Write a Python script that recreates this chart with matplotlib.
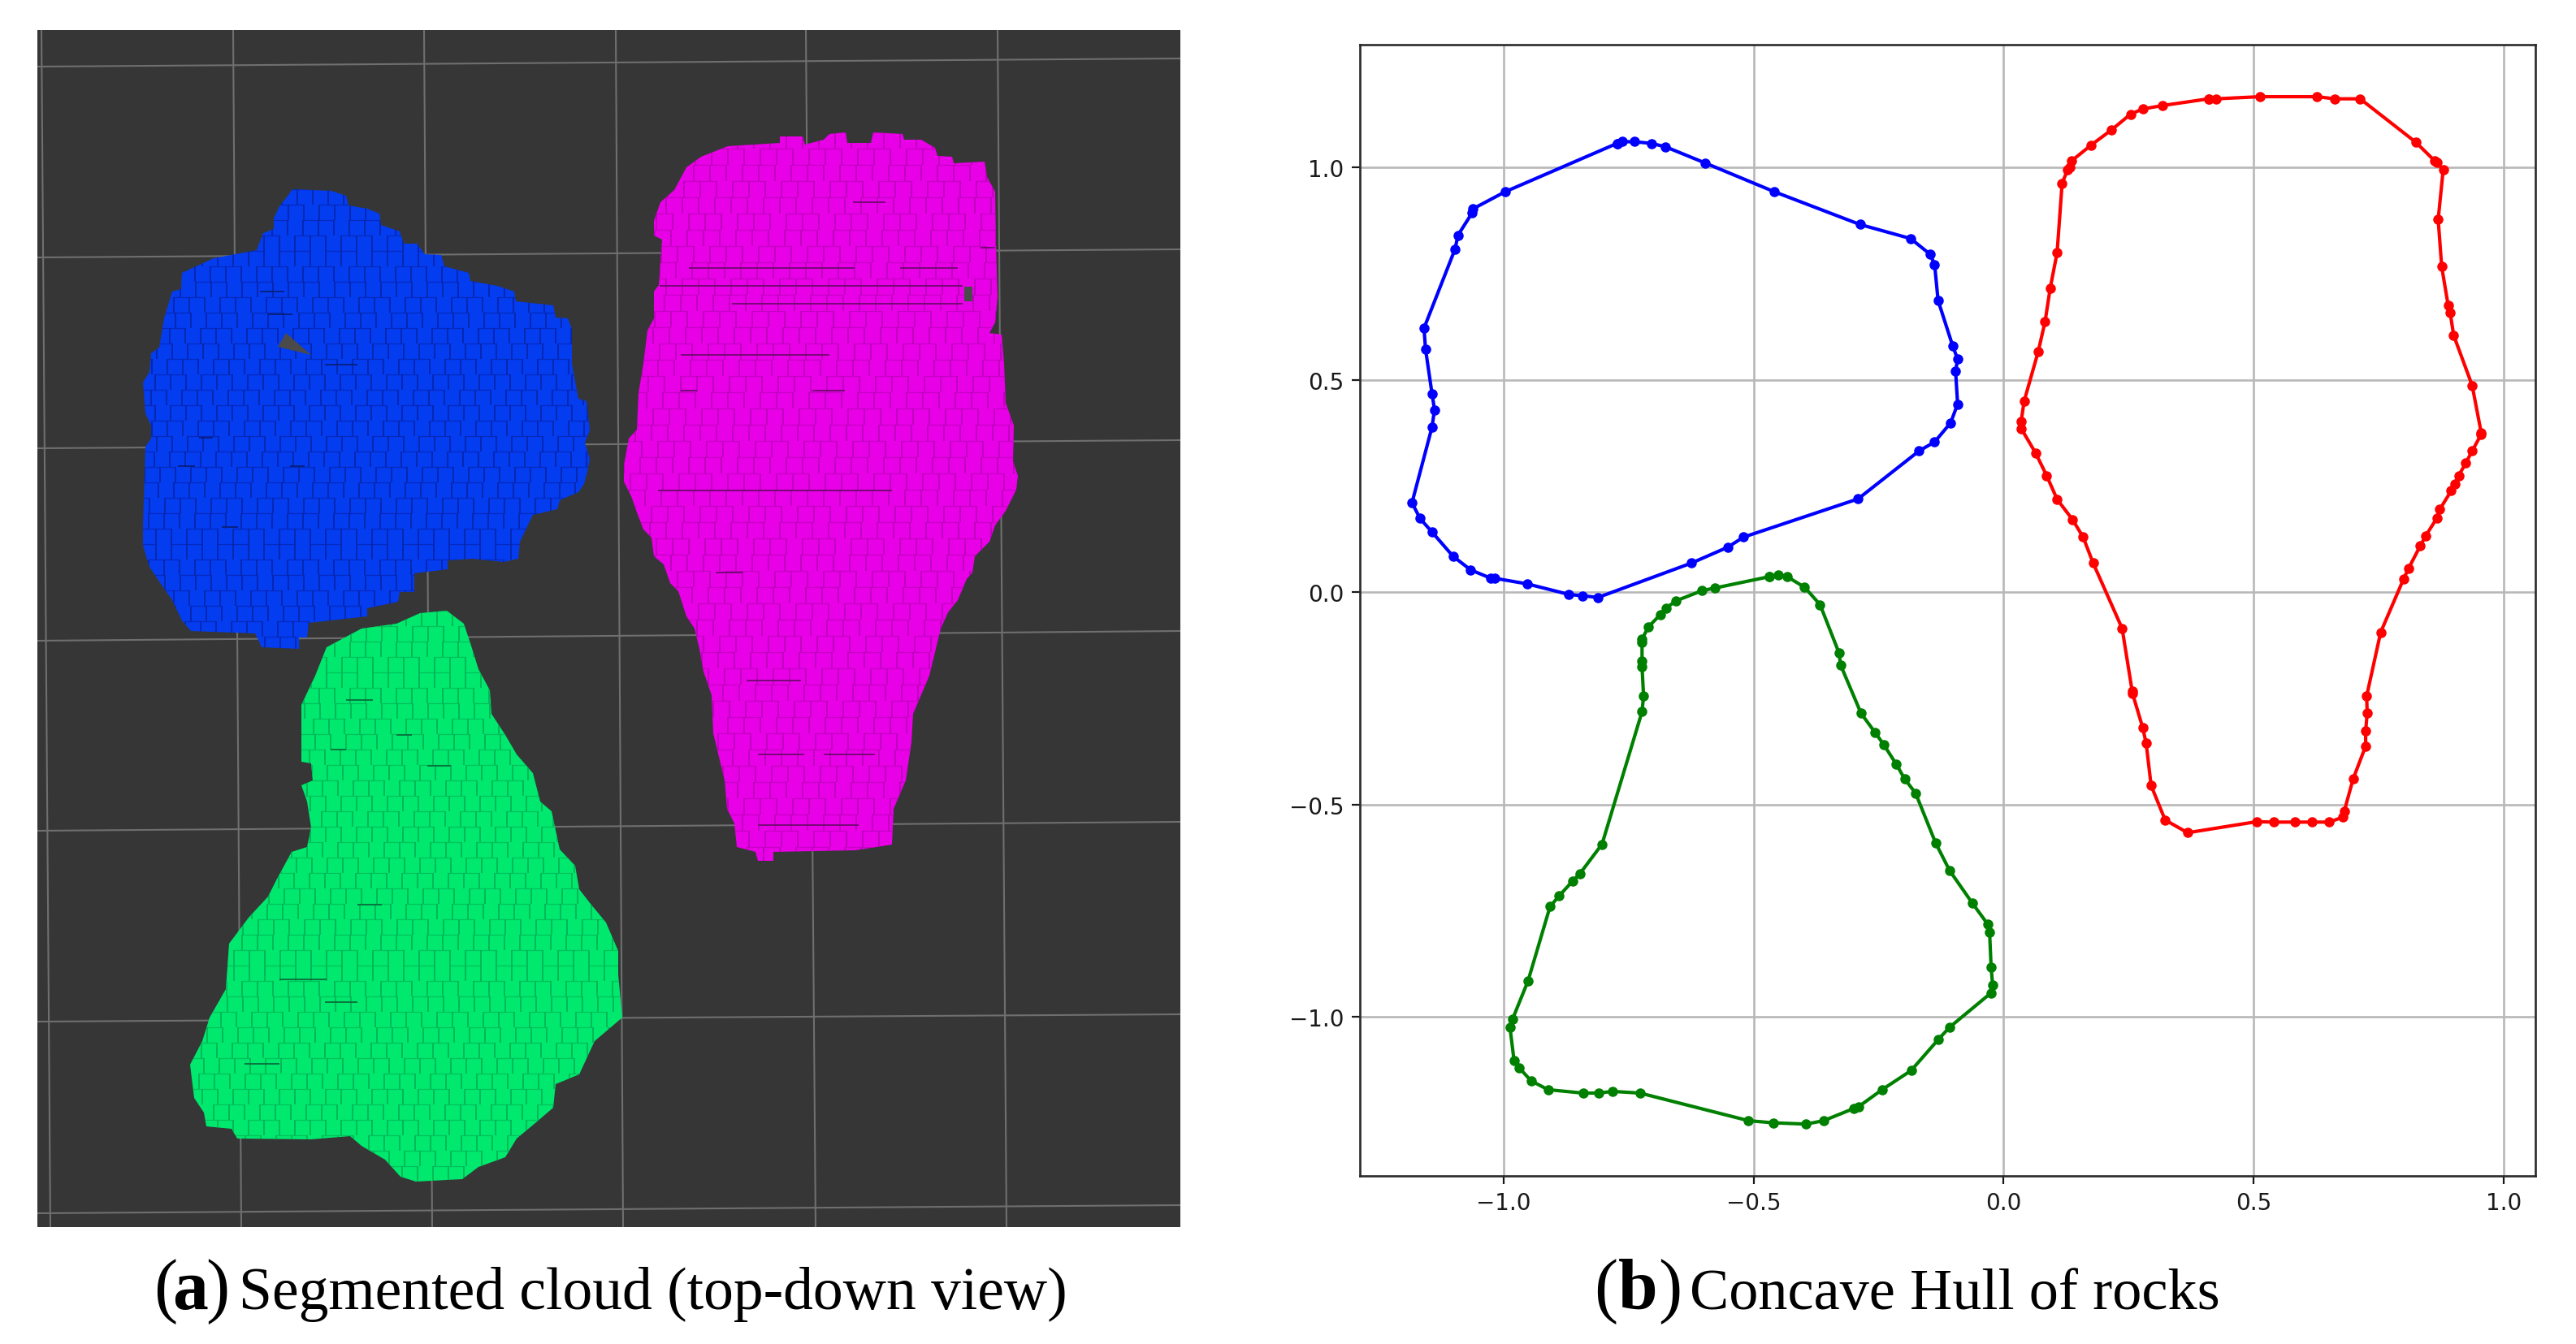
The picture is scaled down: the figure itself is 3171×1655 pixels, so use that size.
import numpy as np
import matplotlib
matplotlib.use("Agg")
import matplotlib.pyplot as plt
from matplotlib.collections import LineCollection
from matplotlib.patches import Polygon

W, H = 3171, 1656

# --- right panel: concave hull vertices (data units) ---
blue_x = [-0.773, -0.762, -0.738, -0.704, -0.676, -0.597, -0.458, -0.287, -0.186, -0.147, -0.138,
          -0.131, -0.102, -0.092, -0.096, -0.092, -0.106, -0.138, -0.169, -0.291, -0.520, -0.552,
          -0.624, -0.811, -0.842, -0.869, -0.953, -1.017, -1.025, -1.066, -1.101, -1.143, -1.167,
          -1.183, -1.143, -1.138, -1.143, -1.156, -1.159, -1.097, -1.091, -1.063, -1.061, -0.997]
blue_y = [1.057, 1.061, 1.061, 1.057, 1.049, 1.011, 0.943, 0.866, 0.833, 0.796, 0.772,
          0.687, 0.581, 0.549, 0.521, 0.443, 0.399, 0.354, 0.333, 0.220, 0.130, 0.106,
          0.069, -0.012, -0.008, -0.005, 0.020, 0.033, 0.033, 0.053, 0.085, 0.142, 0.174,
          0.211, 0.389, 0.430, 0.468, 0.573, 0.622, 0.808, 0.841, 0.893, 0.903, 0.943]

red_x = [0.410, 0.425, 0.513, 0.627, 0.662, 0.713, 0.824, 0.862, 0.866, 0.879, 0.869, 0.876,
         0.889, 0.893, 0.900, 0.937, 0.955, 0.955, 0.937, 0.924, 0.910, 0.903, 0.895, 0.872,
         0.866, 0.844, 0.833, 0.810, 0.800, 0.754, 0.726, 0.727, 0.724, 0.724, 0.699, 0.681,
         0.679, 0.651, 0.616, 0.582, 0.541, 0.506, 0.368, 0.323, 0.295, 0.285, 0.278, 0.258,
         0.257, 0.237, 0.179, 0.159, 0.138, 0.107, 0.086, 0.064, 0.035, 0.035, 0.041, 0.069,
         0.083, 0.093, 0.107, 0.117, 0.128, 0.132, 0.136, 0.175, 0.216, 0.254, 0.278, 0.317]
red_y = [1.162, 1.162, 1.167, 1.167, 1.162, 1.162, 1.060, 1.016, 1.013, 0.995, 0.878, 0.767,
         0.675, 0.658, 0.605, 0.487, 0.376, 0.372, 0.333, 0.304, 0.275, 0.256, 0.239, 0.195,
         0.174, 0.133, 0.109, 0.057, 0.032, -0.094, -0.244, -0.285, -0.326, -0.362, -0.439, -0.516,
         -0.529, -0.541, -0.541, -0.541, -0.541, -0.540, -0.566, -0.536, -0.455, -0.355, -0.318, -0.239,
         -0.232, -0.085, 0.069, 0.130, 0.171, 0.219, 0.275, 0.328, 0.386, 0.402, 0.450, 0.566,
         0.638, 0.715, 0.800, 0.963, 0.995, 1.000, 1.016, 1.053, 1.089, 1.126, 1.138, 1.146]

green_x = [-0.468, -0.451, -0.433, -0.398, -0.367, -0.329, -0.326, -0.285, -0.257, -0.240, -0.215,
           -0.198, -0.176, -0.136, -0.108, -0.063, -0.032, -0.028, -0.025, -0.022, -0.025, -0.108,
           -0.130, -0.185, -0.243, -0.290, -0.299, -0.360, -0.395, -0.461, -0.510, -0.727, -0.782,
           -0.810, -0.841, -0.911, -0.945, -0.969, -0.979, -0.987, -0.982, -0.951, -0.907, -0.889,
           -0.862, -0.847, -0.803, -0.723, -0.720, -0.723, -0.723, -0.723, -0.723, -0.710, -0.686,
           -0.675, -0.655, -0.603, -0.578]
green_y = [0.037, 0.040, 0.037, 0.012, -0.029, -0.143, -0.171, -0.285, -0.330, -0.358, -0.404,
           -0.439, -0.473, -0.590, -0.655, -0.731, -0.781, -0.801, -0.882, -0.924, -0.943, -1.024,
           -1.052, -1.126, -1.171, -1.211, -1.215, -1.244, -1.252, -1.249, -1.244, -1.179, -1.175,
           -1.179, -1.179, -1.171, -1.150, -1.119, -1.102, -1.025, -1.005, -0.915, -0.740, -0.715,
           -0.680, -0.662, -0.593, -0.281, -0.244, -0.175, -0.162, -0.118, -0.110, -0.081, -0.052,
           -0.037, -0.020, 0.004, 0.010]

x_ticks = [-1.0, -0.5, 0.0, 0.5, 1.0]
y_ticks = [-1.0, -0.5, 0.0, 0.5, 1.0]
x_labels = ["\u22121.0", "\u22120.5", "0.0", "0.5", "1.0"]
y_labels = ["\u22121.0", "\u22120.5", "0.0", "0.5", "1.0"]

# --- left panel: screenshot outlines in image pixels ---
cloud_blue = [(360, 234), (408, 236), (426, 242), (429, 254), (452, 258), (467, 264), (469, 278),
              (492, 286), (497, 301), (513, 301), (523, 314), (543, 315), (547, 329), (577, 337),
              (579, 347), (612, 353), (633, 360), (635, 372), (681, 377), (684, 392), (699, 393),
              (704, 406), (704, 449), (712, 492), (722, 495), (726, 531), (720, 546), (726, 566),
              (723, 582), (719, 597), (712, 607), (689, 617), (686, 628), (656, 635), (640, 668),
              (638, 689), (620, 693), (582, 689), (551, 691), (551, 702), (510, 707), (510, 730),
              (492, 730), (490, 742), (452, 750), (452, 760), (380, 768), (378, 786), (368, 786),
              (368, 800), (322, 798), (319, 791), (314, 781), (235, 778), (224, 765), (212, 740),
              (194, 714), (184, 699), (176, 673), (176, 648), (179, 551), (186, 541), (186, 525),
              (179, 510), (176, 472), (184, 459), (186, 436), (196, 429), (202, 393), (212, 360),
              (223, 357), (224, 337), (263, 319), (316, 309), (324, 288), (337, 283), (337, 270),
              (344, 255), (352, 245)]
cloud_magenta = [(960, 169), (988, 169), (991, 179), (1014, 173), (1021, 166), (1041, 164), (1043, 177),
                 (1072, 177), (1075, 164), (1111, 166), (1113, 173), (1134, 173), (1151, 183), (1154, 193),
                 (1172, 194), (1174, 202), (1212, 200), (1215, 219), (1225, 237), (1226, 301), (1228, 367),
                 (1225, 398), (1218, 411), (1233, 413), (1236, 449), (1238, 497), (1248, 525), (1247, 569),
                 (1253, 587), (1251, 604), (1238, 630), (1225, 648), (1218, 668), (1210, 676), (1200, 686),
                 (1197, 706), (1190, 714), (1179, 740), (1167, 755), (1158, 775), (1144, 833), (1124, 880),
                 (1122, 915), (1115, 962), (1100, 997), (1098, 1041), (1053, 1048), (952, 1050), (952, 1061),
                 (933, 1061), (930, 1050), (907, 1044), (904, 1015), (895, 997), (892, 962), (885, 933),
                 (878, 904), (876, 857), (866, 828), (861, 800), (855, 775), (845, 760), (835, 729),
                 (825, 719), (817, 696), (805, 686), (802, 663), (792, 653), (784, 632), (777, 612),
                 (768, 594), (768, 574), (774, 541), (784, 530), (786, 485), (792, 449), (797, 408),
                 (805, 393), (805, 360), (811, 352), (815, 296), (805, 291), (805, 273), (813, 250),
                 (830, 235), (845, 207), (863, 194), (896, 181), (960, 177)]
cloud_green = [(517, 756), (550, 753), (571, 769), (579, 793), (589, 825), (603, 851), (605, 880),
               (622, 906), (636, 930), (656, 953), (665, 988), (679, 1000), (689, 1047), (708, 1067),
               (713, 1096), (727, 1114), (746, 1137), (761, 1172), (761, 1201), (766, 1254), (732, 1283),
               (713, 1324), (684, 1336), (681, 1365), (660, 1383), (636, 1403), (622, 1426), (589, 1438),
               (569, 1453), (512, 1456), (493, 1450), (474, 1429), (445, 1412), (431, 1400), (383, 1404),
               (292, 1403), (285, 1391), (254, 1388), (251, 1371), (239, 1353), (234, 1312), (249, 1283),
               (258, 1254), (278, 1219), (282, 1163), (306, 1131), (330, 1105), (340, 1085), (359, 1050),
               (378, 1044), (383, 1020), (378, 988), (371, 968), (385, 962), (383, 941), (371, 939),
               (371, 869), (388, 833), (402, 798), (445, 775), (488, 769)]

hole_blue = [(342, 428), (352, 411), (383, 438)]
hole_magenta = [(1187, 354), (1197, 354), (1197, 372), (1187, 372)]

# dark gaps between voxels: x start, x end, y
cracks_blue = [(219, 240, 575), (273, 293, 650), (245, 262, 540), (357, 375, 575), (320, 350, 360),
               (330, 360, 388), (400, 440, 450)]
cracks_magenta = [(848, 1052, 331), (1108, 1179, 331), (812, 1185, 353), (901, 1185, 375), (838, 1021, 438),
                  (810, 1098, 605), (838, 858, 482), (881, 914, 706), (1207, 1225, 306), (933, 1057, 1017),
                  (919, 986, 839), (933, 990, 930), (1014, 1077, 930), (1050, 1090, 250), (1000, 1040, 482)]
cracks_green = [(426, 459, 863), (488, 507, 906), (526, 555, 944), (407, 426, 924), (344, 402, 1207),
                (301, 344, 1311), (440, 470, 1115), (400, 440, 1235)]

# view grid of the screenshot: (start, end) of each tilted line
grid_vert = [(51, 62), (287, 297), (522, 532), (758, 767), (992, 1004), (1228, 1239)]
grid_horz = [(83, 73), (318, 308), (553, 543), (790, 778), (1024, 1013), (1259, 1250), (1495, 1485)]


def panel_axes(fig, left, right, top, bottom):
    return fig.add_axes([left / W, 1 - bottom / H, (right - left) / W, (bottom - top) / H])


def draw_cloud(ax, outline, face, line, crack, tile, cracks, holes=None):
    poly = Polygon(outline, closed=True, facecolor=face, edgecolor="none", zorder=3)
    ax.add_patch(poly)

    # voxel texture: broken horizontal and vertical gaps, clipped to the outline
    xs = [p[0] for p in outline]
    ys = [p[1] for p in outline]
    h_segs = []
    v_segs = []
    for i, y in enumerate(np.arange(min(ys), max(ys), tile)):
        shift = (i * i * 5 + i * 3) % tile
        for j, x in enumerate(np.arange(min(xs) - tile + shift, max(xs), tile)):
            v_segs.append([(x, y), (x, y + tile)])
            if (i + j) % 3 != 0:
                h_segs.append([(x, y), (x + tile, y)])
    v_lines = LineCollection(v_segs, colors=line, linewidths=1.3, zorder=4)
    h_lines = LineCollection(h_segs, colors=line, linewidths=0.9, alpha=0.75, zorder=4)
    for lc in (v_lines, h_lines):
        ax.add_collection(lc)
        lc.set_clip_path(poly)

    for x0, x1, y in cracks:
        ax.plot([x0, x1], [y, y], color=crack, lw=1.3, zorder=5, solid_capstyle="butt")

    if holes is not None:
        ax.add_patch(Polygon(holes, closed=True, facecolor="#4a4a4a", edgecolor="none", zorder=6))


def main():
    fig = plt.figure(figsize=(W / 100, H / 100), dpi=100, facecolor="white")

    # (a) screenshot of the segmented cloud
    ax_a = panel_axes(fig, 46, 1453, 38, 1512)
    ax_a.set_xlim(46, 1453)
    ax_a.set_ylim(1512, 38)
    ax_a.set_facecolor("#363636")
    ax_a.set_xticks([])
    ax_a.set_yticks([])
    for s in ax_a.spines.values():
        s.set_visible(False)

    for x0, x1 in grid_vert:
        ax_a.plot([x0, x1], [38, 1512], color="#6f6f6f", lw=1.5, zorder=1)
    for y0, y1 in grid_horz:
        ax_a.plot([46, 1453], [y0, y1], color="#6f6f6f", lw=1.5, zorder=1)

    draw_cloud(ax_a, cloud_blue, "#043cf0", "#0626ac", "#08207a", 19, cracks_blue, hole_blue)
    draw_cloud(ax_a, cloud_magenta, "#e800e6", "#bc00ba", "#6e0a6e", 20, cracks_magenta, hole_magenta)
    draw_cloud(ax_a, cloud_green, "#00e86e", "#00b555", "#0a6e3c", 19, cracks_green)

    # (b) concave hulls
    ax_b = panel_axes(fig, 1674, 3121, 56, 1449)
    ax_b.set_xlim((1674 - 2466.4) / 615.6, (3121 - 2466.4) / 615.6)
    ax_b.set_ylim((730.4 - 1449) / 523, (730.4 - 56) / 523)

    for xs, ys, col in [(blue_x, blue_y, "blue"), (red_x, red_y, "red"), (green_x, green_y, "green")]:
        ax_b.plot(xs + xs[:1], ys + ys[:1], color=col, lw=3, marker="o", ms=8, zorder=3)

    ax_b.set_xticks(x_ticks)
    ax_b.set_xticklabels(x_labels)
    ax_b.set_yticks(y_ticks)
    ax_b.set_yticklabels(y_labels)
    ax_b.tick_params(labelsize=20, length=7, width=1.6, pad=7, colors="#1a1a1a")
    ax_b.grid(True, color="#b8b8b8", lw=1.9)
    ax_b.set_axisbelow(True)
    for s in ax_b.spines.values():
        s.set_linewidth(1.9)
        s.set_color("#2a2a2a")

    # captions, placed piece by piece because the label letter is bold
    pieces = [
        (189, "(", 63, "normal"), (212, "a", 63, "bold"), (253, ")", 63, "normal"),
        (294, "Segmented cloud (top-down view)", 53, "normal"),
        (1962, "(", 63, "normal"), (1992, "b", 63, "bold"), (2041, ")", 63, "normal"),
        (2080, "Concave Hull of rocks", 52, "normal"),
    ]
    for x, txt, size, weight in pieces:
        fig.text(x / W, 1 - 1612 / H, txt, family="Liberation Serif", fontsize=size,
                 fontweight=weight, ha="left", va="baseline", color="black")

    fig.savefig("out.png", dpi=100, facecolor="white")


if __name__ == "__main__":
    main()
